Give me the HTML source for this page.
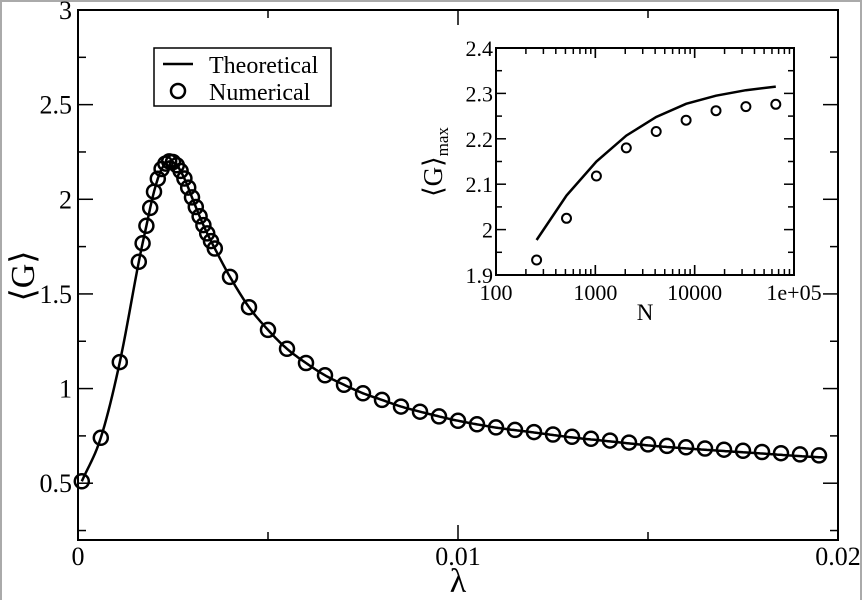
<!DOCTYPE html>
<html><head><meta charset="utf-8"><style>
html,body{margin:0;padding:0;background:#fff}
svg{display:block}
text{font-family:"Liberation Serif",serif;fill:#000}
</style></head><body>
<svg id="s" width="862" height="600" viewBox="0 0 862 600" xmlns="http://www.w3.org/2000/svg">
<rect x="0" y="0" width="862" height="600" fill="#fff"/>
<line x1="1" y1="0" x2="1" y2="600" stroke="#aaa" stroke-width="2"/>
<line x1="0" y1="1" x2="862" y2="1" stroke="#aaa" stroke-width="2"/>
<line x1="861" y1="0" x2="861" y2="600" stroke="#aaa" stroke-width="2"/>
<g id="main"></g>
</svg>
<script>
const S=document.getElementById('main');let h='';
const X0=78,X1=838,Y0=10,Y1=540;
const px=l=>X0+l/0.02*(X1-X0);
const py=v=>Y0+(3-v)*(Y1-Y0)/2.8;
h+=`<rect x="${X0}" y="${Y0}" width="${X1-X0}" height="${Y1-Y0}" fill="none" stroke="#000" stroke-width="2"/>`;
for(let v=0.25;v<=3.001;v+=0.25){const y=py(v);const major=Math.abs(v*2-Math.round(v*2))<1e-6;const L=major?15:8;
h+=`<line x1="${X0}" y1="${y}" x2="${X0+L}" y2="${y}" stroke="#000" stroke-width="1.5"/><line x1="${X1}" y1="${y}" x2="${X1-L}" y2="${y}" stroke="#000" stroke-width="1.5"/>`;
if(major&&v>=0.5)h+=`<text x="${X0-6}" y="${y+9}" font-size="26" text-anchor="end">${+v.toFixed(1)}</text>`;}
for(let l=0;l<=0.02001;l+=0.005){const x=px(l);const major=Math.abs(l*100-Math.round(l*100))<1e-6;const L=major?15:8;
h+=`<line x1="${x}" y1="${Y1}" x2="${x}" y2="${Y1-L}" stroke="#000" stroke-width="1.5"/><line x1="${x}" y1="${Y0}" x2="${x}" y2="${Y0+L}" stroke="#000" stroke-width="1.5"/>`;
if(major)h+=`<text x="${x}" y="${Y1+25}" font-size="26" text-anchor="middle">${l==0?'0':+l.toFixed(2)}</text>`;}
h+=`<text x="458" y="592" font-size="34" text-anchor="middle">λ</text>`;
h+=`<text transform="translate(34,276) rotate(-90)" font-size="34" text-anchor="middle">⟨G⟩</text>`;
const P=[[0.0001,0.51],[0.0006,0.74],[0.0011,1.14],[0.0016,1.67],[0.0018,1.86],[0.002,2.04],[0.0022,2.16],[0.0024,2.2],[0.0026,2.18],[0.0028,2.11],[0.003,2.01],[0.0032,1.91],[0.0034,1.82],[0.0036,1.74],[0.004,1.59],[0.0045,1.43],[0.005,1.31],[0.0055,1.21],[0.006,1.135],[0.0065,1.07],[0.007,1.02],[0.0075,0.975],[0.008,0.94],[0.0085,0.905],[0.009,0.878],[0.0095,0.853],[0.01,0.83],[0.011,0.795],[0.012,0.77],[0.013,0.745],[0.014,0.725],[0.015,0.705],[0.016,0.69],[0.017,0.677],[0.018,0.665],[0.019,0.652],[0.0197,0.645]];
function f(l){for(let i=0;i<P.length-1;i++){if(l<=P[i+1][0]){const a=P[i],b=P[i+1];const p0=P[Math.max(i-1,0)],p3=P[Math.min(i+2,P.length-1)];const t=(l-a[0])/(b[0]-a[0]);
const m1=(b[1]-p0[1])/(b[0]-p0[0])*(b[0]-a[0]),m2=(p3[1]-a[1])/(p3[0]-a[0])*(b[0]-a[0]);
const t2=t*t,t3=t2*t;return (2*t3-3*t2+1)*a[1]+(t3-2*t2+t)*m1+(-2*t3+3*t2)*b[1]+(t3-t2)*m2;}}return P[P.length-1][1];}
let d='';for(let l=0.0001;l<=0.0197;l+=0.00005){d+=(d?'L':'M')+px(l).toFixed(1)+','+py(f(l)-(l>0.01?(l-0.01)*1:0)).toFixed(1);}
h+=`<path d="${d}" fill="none" stroke="#000" stroke-width="2.5"/>`;
let L=[0.0001,0.0006,0.0011];for(let l=0.0016;l<=0.00361;l+=0.0001)L.push(l);for(let l=0.004;l<=0.01961;l+=0.0005)L.push(l);
L.forEach(l=>{h+=`<circle cx="${px(l).toFixed(1)}" cy="${py(f(l)).toFixed(1)}" r="7" fill="none" stroke="#000" stroke-width="2.5"/>`;});
h+=`<rect x="154" y="48" width="177" height="58" fill="#fff" stroke="#000" stroke-width="1.5"/>`;
h+=`<line x1="163" y1="64" x2="193" y2="64" stroke="#000" stroke-width="2.5"/><text x="209" y="73" font-size="24">Theoretical</text>`;
h+=`<circle cx="178" cy="91" r="7" fill="none" stroke="#000" stroke-width="2.5"/><text x="209" y="100" font-size="24">Numerical</text>`;
const I0=496,I1=794,J0=48,J1=275;
const ix=n=>I0+(Math.log10(n)-2)/3*(I1-I0);const iy=v=>J0+(2.4-v)/0.5*(J1-J0);
h+=`<rect x="${I0}" y="${J0}" width="${I1-I0}" height="${J1-J0}" fill="#fff" stroke="#000" stroke-width="2"/>`;
for(let v=1.9;v<=2.4001;v+=0.05){const y=iy(v);const maj=Math.abs(v*10-Math.round(v*10))<1e-6;const Lt=maj?10:6;
h+=`<line x1="${I0}" y1="${y}" x2="${I0+Lt}" y2="${y}" stroke="#000" stroke-width="1.5"/><line x1="${I1}" y1="${y}" x2="${I1-Lt}" y2="${y}" stroke="#000" stroke-width="1.5"/>`;
if(maj)h+=`<text x="${I0-3}" y="${y+8}" font-size="22" text-anchor="end">${+v.toFixed(1)}</text>`;}
for(let e=2;e<5;e++)for(let k=1;k<=10;k++){const n=k*Math.pow(10,e);const x=ix(n);const maj=(k==1||k==10);const Lt=maj?10:6;
h+=`<line x1="${x}" y1="${J1}" x2="${x}" y2="${J1-Lt}" stroke="#000" stroke-width="1.5"/><line x1="${x}" y1="${J0}" x2="${x}" y2="${J0+Lt}" stroke="#000" stroke-width="1.5"/>`;}
[[100,'100'],[1000,'1000'],[10000,'10000'],[100000,'1e+05']].forEach(([n,s])=>{h+=`<text x="${ix(n)}" y="${J1+25}" font-size="22" text-anchor="middle">${s}</text>`;});
h+=`<text x="645" y="320" font-size="23" text-anchor="middle">N</text>`;
h+=`<text transform="translate(442,162) rotate(-90)" font-size="27" text-anchor="middle">⟨G⟩<tspan font-size="17" dy="6">max</tspan></text>`;
const Ns=[256,512,1024,2048,4096,8192,16384,32768,65536];
const Lv=[1.977,2.075,2.15,2.207,2.248,2.277,2.295,2.307,2.315];
const Cv=[1.933,2.025,2.118,2.18,2.216,2.241,2.262,2.271,2.276];
h+=`<path d="${Ns.map((n,i)=>(i?'L':'M')+ix(n).toFixed(1)+','+iy(Lv[i]).toFixed(1)).join('')}" fill="none" stroke="#000" stroke-width="2.5"/>`;
Ns.forEach((n,i)=>{h+=`<circle cx="${ix(n).toFixed(1)}" cy="${iy(Cv[i]).toFixed(1)}" r="4.5" fill="none" stroke="#000" stroke-width="2"/>`;});
S.innerHTML=h;
</script>
</body></html>
